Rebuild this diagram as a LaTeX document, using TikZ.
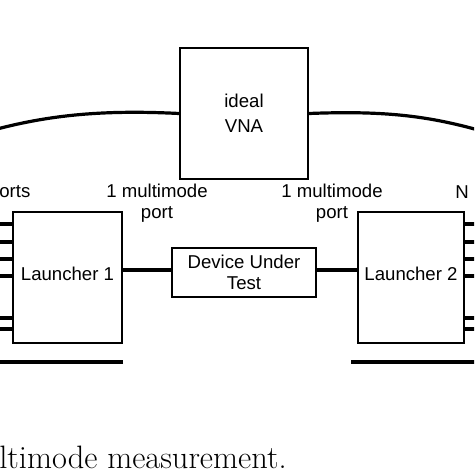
\documentclass[tikz,border=0pt]{standalone}
\usepackage{fontspec}
\newfontfamily\arial{Liberation Sans}
\tikzset{
  box/.style={draw,line width=1pt,font=\arial\fontsize{9.3}{10.5}\selectfont,align=center,inner sep=0pt},
  wire/.style={line width=1.8pt},
  port/.style={line width=1.6pt},
  lbl/.style={font=\arial\fontsize{9.3}{10.5}\selectfont,align=center,inner sep=0pt}
}
\begin{document}
\begin{tikzpicture}[x=0.5pt,y=-0.5pt]
\clip (0,0) rectangle (474,474);
\node[box,minimum width=64pt,minimum height=65.5pt] (vna) at (244,113.5) {ideal\\[2pt]VNA};
\node[box,minimum width=54.5pt,minimum height=65.5pt,label={[lbl]center:\raisebox{4pt}{Launcher 1}}] (l1) at (67.5,277.5) {};
\node[box,minimum width=72pt,minimum height=24.5pt] (dut) at (244,272.5) {Device Under\\Test};
\node[box,minimum width=53pt,minimum height=65.5pt,label={[lbl]center:\raisebox{4pt}{Launcher 2}}] (l2) at (411,277.5) {};
\coordinate (cl) at (-40,140);
\coordinate (cr) at (514,141);
\draw[port] (vna.west) .. controls (90,109) and (30,117) .. (cl);
\draw[port] (vna.east) .. controls (398,110) and (444,118) .. (cr);
\draw[wire] (l1.east |- 0,270) -- (dut.west |- 0,270);
\draw[wire] (dut.east |- 0,270) -- (l2.west |- 0,270);
\foreach \y in {224,242,259,276,318,329} {
  \draw[port] (l1.west |- 0,\y) -- ++(-20,0);
  \draw[port] (l2.east |- 0,\y) -- ++(20,0);
}
\draw[wire] (l1.south east) ++(0,18) -- ++(-130,0);
\draw[wire] (l2.south west) ++(-6,18) -- ++(130,0);
\node[lbl,anchor=west] at (-1,192) {orts};
\node[lbl] at (157,203) {1 multimode\\port};
\node[lbl] at (332,203) {1 multimode\\port};
\node[lbl,anchor=west] at (455,192) {N};
\node[anchor=base west,inner sep=0pt,font=\fontsize{16.2}{18}\selectfont] at (-1,468) {ltimode measurement.};
\end{tikzpicture}
\end{document}
